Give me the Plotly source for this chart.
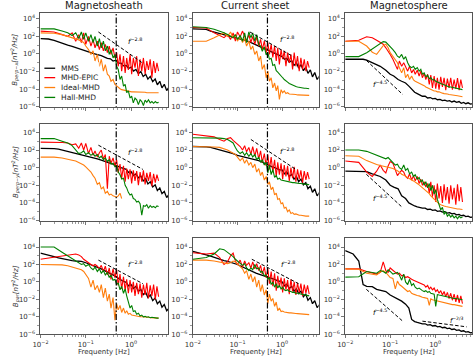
import plotly.graph_objects as go

# ---------------- frequencies (Hz) ----------------
FREQ_MMS = [0.010, 0.015, 0.020, 0.025, 0.030, 0.040, 0.050, 0.060, 0.080, 0.100,
            0.120, 0.150, 0.180, 0.220, 0.260, 0.300, 0.350, 0.400, 0.460, 0.520,
            0.600, 0.680, 0.780, 0.880, 1.00, 1.13, 1.28, 1.45, 1.64, 1.85,
            2.10, 2.35, 2.65, 3.00, 3.40, 3.80, 4.30, 4.80, 5.40, 6.10,
            6.90, 7.80]
FREQ_MODEL = [0.010, 0.020, 0.030, 0.040, 0.050, 0.060, 0.070, 0.080, 0.090, 0.100,
              0.115, 0.130, 0.145, 0.160, 0.180, 0.200, 0.220, 0.245, 0.270, 0.300,
              0.330, 0.360, 0.400, 0.440, 0.480, 0.520, 0.570, 0.620, 0.680, 0.740,
              0.800, 0.870, 0.950, 1.03, 1.12, 1.22, 1.33, 1.45, 1.58, 1.72,
              1.87, 2.04, 2.22, 2.42, 2.64, 2.88, 3.14, 3.42, 3.72, 4.05]

# ---------------- log10 PSD [nT^2/Hz] ----------------
# Magnetosheath, B_perp-x
SHEATH_PX_MMS = [1.75, 1.7, 1.55, 1.35, 1.2, 1.0, 0.85, 0.7, 0.5, 0.35,
                 0.2, 0.05, -0.05, -0.2, -0.35, -0.5, -0.55, -0.8, -0.7, -1.05,
                 -1.05, -1.35, -1.3, -1.65, -1.5, -1.95, -1.75, -2.25, -2.0, -2.55,
                 -2.3, -2.85, -2.55, -3.15, -2.85, -3.5, -3.1, -3.85, -3.45, -4.15,
                 -3.75, -4.35]
SHEATH_PX_EPIC = [2.6, 2.5, 2.2, 2.0, 2.4, 1.45, 2.2, 1.3, 2.4, 1.1,
                  2.0, 0.9, 1.65, 0.7, 1.45, 0.5, 1.3, 0.35, 1.1, 0.15,
                  0.9, -0.05, 0.7, -0.45, 0.15, -1.4, -0.05, -1.95, -0.25, -2.15,
                  -0.45, -1.8, -0.05, -2.3, -0.45, -1.55, -0.25, -2.5, -0.6, -1.95,
                  -0.45, -2.3, -0.8, -1.8, -0.6, -2.7, -0.8, -2.15, -1.0, -1.95]
SHEATH_PX_IDEAL = [2.4, 2.35, 2.2, 2.0, 1.85, 1.75, 1.6, 1.45, 1.3, 0.9,
                   0.5, -0.05, 0.35, -0.8, -0.05, -1.4, -0.6, -1.95, -1.2, -2.3,
                   -2.5, -3.1, -2.9, -3.45, -3.65, -3.85, -3.95, -4.05, -4.1, -4.2,
                   -4.2, -4.25, -4.25, -4.3, -4.3, -4.3, -4.3, -4.35, -4.35, -4.35,
                   -4.35, -4.35, -4.4, -4.4, -4.4, -4.4, -4.4, -4.4, -4.4, -4.4]
SHEATH_PX_HALL = [2.85, 2.85, 2.6, 2.4, 2.1, 2.4, 1.75, 2.5, 1.65, 2.4,
                  1.45, 2.2, 1.3, 2.0, 0.9, 1.75, 0.7, 1.45, 0.35, 0.9,
                  -0.05, 0.5, -0.45, -0.05, -1.4, -1.75, -2.9, -2.5, -3.65, -3.45,
                  -4.4, -4.2, -5.0, -4.8, -5.55, -5.0, -5.2, -5.75, -5.2, -5.4,
                  -5.85, -5.25, -5.5, -5.2, -5.55, -5.4, -5.6, -5.4, -5.55, -5.5]

# Current sheet, B_perp-x
CSHEET_PX_MMS = [2.85, 2.85, 2.8, 2.6, 2.5, 2.35, 2.2, 2.1, 1.95, 1.85,
                 1.7, 1.55, 1.4, 1.2, 1.05, 0.9, 0.75, 0.6, 0.45, 0.35,
                 0.2, 0.05, -0.1, -0.25, -0.3, -0.6, -0.5, -0.95, -0.75, -1.3,
                 -1.0, -1.6, -1.2, -1.9, -1.5, -2.2, -1.8, -2.6, -2.1, -2.9,
                 -2.5, -3.4]
CSHEET_PX_EPIC = [3.0, 2.95, 2.4, 2.1, 1.85, 2.2, 1.65, 2.4, 1.45, 2.5,
                  1.95, 2.6, 1.85, 1.45, 2.2, 1.3, 2.0, 1.1, 1.95, 0.9,
                  1.65, 0.5, 1.45, 0.15, 1.3, -0.05, 1.1, -0.4, 0.9, -0.8,
                  0.7, -1.2, 0.5, -0.6, 0.35, -1.4, 0.15, -1.0, -0.05, -1.75,
                  0.15, -1.4, -0.25, -1.95, -0.45, -1.75, -0.6, -1.95, -0.8, -1.55]
CSHEET_PX_IDEAL = [1.45, 1.45, 1.85, 2.2, 2.4, 2.0, 2.5, 1.85, 2.2, 1.45,
                   2.0, 1.3, 1.75, 0.9, 1.45, 0.5, 0.9, -0.05, 0.35, -0.8,
                   -0.25, -1.75, -1.2, -2.7, -1.95, -3.1, -2.7, -3.85, -3.3, -4.2,
                   -3.6, -5.15, -4.05, -4.4, -4.2, -4.5, -4.4, -4.55, -4.55, -4.6,
                   -4.6, -4.6, -4.65, -4.65, -4.65, -4.7, -4.7, -4.7, -4.7, -4.7]
CSHEET_PX_HALL = [3.1, 3.0, 2.8, 2.6, 2.4, 2.2, 2.0, 1.85, 2.2, 1.65,
                  2.1, 1.45, 2.4, 1.3, 2.5, 1.85, 2.4, 1.45, 2.2, 1.1,
                  0.9, 0.3, 0.8, -0.1, 0.2, -0.6, -0.5, -1.3, -1.2, -1.9,
                  -2.05, -2.3, -2.5, -2.7, -2.9, -3.1, -3.2, -3.35, -3.45, -3.55,
                  -3.6, -3.7, -3.75, -3.8, -3.8, -3.85, -3.9, -3.9, -3.9, -3.95]

# Magnetosphere, B_perp-x
SPHERE_PX_MMS = [-0.6, -0.6, -0.6, -0.6, -0.7, -1.0, -1.2, -1.4, -1.85, -2.3,
                 -2.5, -2.9, -3.1, -3.3, -3.65, -4.05, -4.35, -4.5, -4.7, -4.8,
                 -4.8, -5.0, -4.95, -5.1, -5.05, -5.2, -5.15, -5.3, -5.25, -5.35,
                 -5.3, -5.45, -5.35, -5.5, -5.4, -5.6, -5.5, -5.65, -5.55, -5.7,
                 -5.65, -5.85]
SPHERE_PX_EPIC = [1.45, 1.55, 1.95, 1.85, 1.55, 1.35, 1.1, 0.7, 0.35, -0.05,
                  -0.6, -1.2, -1.75, -0.8, -1.4, -1.0, -1.55, -1.95, -1.4, -2.15,
                  -1.75, -2.3, -1.85, -2.5, -1.95, -2.7, -2.2, -2.9, -2.3, -3.45,
                  -2.4, -3.85, -2.5, -3.95, -2.7, -4.05, -2.6, -3.75, -2.7, -4.1,
                  -2.8, -3.85, -2.7, -4.05, -2.9, -3.95, -2.75, -4.1, -2.9, -3.85]
SPHERE_PX_IDEAL = [1.45, 1.45, 0.9, 0.2, -0.05, 0.5, 0.95, 1.1, 0.7, 0.15,
                   -0.25, -0.6, -1.0, -1.55, -2.15, -1.55, -2.7, -2.3, -2.9, -2.5,
                   -2.95, -3.1, -3.2, -3.3, -3.4, -3.45, -3.6, -3.75, -3.85, -3.95,
                   -4.05, -4.1, -4.2, -4.2, -4.3, -4.3, -4.4, -4.45, -4.5, -4.5,
                   -4.55, -4.6, -4.65, -4.65, -4.7, -4.72, -4.75, -4.78, -4.8, -4.85]
SPHERE_PX_HALL = [-0.3, -0.3, 0.15, 0.6, 0.95, 1.25, 1.4, 1.35, 1.1, 0.8,
                  0.5, 0.15, -0.25, -0.4, -0.05, -0.6, -0.3, -1.0, -1.4, -1.55,
                  -1.4, -1.75, -1.55, -1.95, -1.75, -2.3, -2.15, -2.6, -2.4, -2.8,
                  -2.7, -2.95, -2.9, -3.1, -3.2, -3.3, -3.35, -3.45, -3.5, -3.6,
                  -3.65, -3.75, -3.75, -3.8, -3.85, -3.85, -3.9, -3.95, -4.0, -4.05]

# Magnetosheath, B_perp-y
SHEATH_PY_MMS = [2.2, 2.2, 2.15, 2.1, 2.0, 1.9, 1.75, 1.65, 1.5, 1.35,
                 1.25, 1.1, 1.0, 0.85, 0.75, 0.6, 0.5, 0.4, 0.3, 0.15,
                 0.0, -0.1, -0.2, -0.55, -0.45, -0.9, -0.7, -1.15, -0.95, -1.5,
                 -1.25, -1.85, -1.6, -2.2, -1.95, -2.6, -2.3, -2.95, -2.7, -3.4,
                 -3.0, -3.75]
SHEATH_PY_EPIC = [2.9, 2.9, 2.85, 2.8, 2.6, 2.7, 2.2, 2.8, 2.0, 2.75,
                  1.6, 2.3, 1.4, 1.9, 1.2, 1.7, 2.0, 1.0, 1.5, -2.4,
                  1.3, 0.5, 1.1, 0.2, 0.9, -0.6, 0.4, -1.2, 0.2, -1.6,
                  -0.1, -1.3, -0.2, -1.8, -0.3, -1.5, -0.4, -2.0, -0.5, -1.6,
                  -0.3, -1.9, -0.6, -1.5, -0.5, -2.1, -0.7, -1.7, -0.8, -1.5]
SHEATH_PY_IDEAL = [1.2, 1.2, 1.1, 1.0, 0.85, 0.75, 0.6, 0.5, 0.3, 0.1,
                   -0.2, -0.5, -0.9, -1.2, -1.9, -1.7, -2.4, -2.2, -2.9, -2.7,
                   -3.1, -3.0, -3.2, -3.3, -3.35, -3.2, -2.9, -3.5, None, None,
                   None, None, None, None, None, None, None, None, None, None,
                   None, None, None, None, None, None, None, None, None, None]
SHEATH_PY_HALL = [3.3, 3.3, 3.0, 2.8, 2.5, 2.0, 1.6, 1.7, 1.9, 1.5,
                  1.7, 1.4, 1.6, 1.3, 1.5, 1.1, 1.3, 0.9, 1.1, 0.7,
                  0.9, 0.4, 0.5, 0.1, 0.2, -0.5, -0.8, -1.3, -1.2, -2.0,
                  -2.3, -2.8, -3.1, -3.0, -3.5, -3.6, -3.9, -3.8, -4.1, -5.4,
                  -4.3, -4.4, -4.2, -4.6, -4.3, -4.5, -4.4, -4.55, -4.35, -4.4]

# Current sheet, B_perp-y
CSHEET_PY_MMS = [2.4, 2.4, 2.35, 2.3, 2.2, 2.05, 1.9, 1.75, 1.6, 1.4,
                 1.3, 1.2, 1.1, 1.0, 0.9, 0.8, 0.65, 0.5, 0.4, 0.25,
                 0.1, 0.0, -0.15, -0.25, -0.25, -0.7, -0.5, -1.0, -0.75, -1.3,
                 -1.0, -1.6, -1.3, -1.95, -1.7, -2.4, -2.1, -2.8, -2.4, -3.2,
                 -2.8, -3.5]
CSHEET_PY_EPIC = [3.8, 3.6, 3.5, 3.2, 3.0, 3.3, 3.4, 3.1, 2.9, 2.7,
                  2.4, 2.0, 2.5, 1.8, 2.3, 1.5, 2.4, 1.3, 2.2, 1.0,
                  1.9, 0.6, 1.6, 0.2, 1.5, -0.2, 1.2, -0.5, 0.9, -1.0,
                  0.6, -0.8, 0.5, -1.3, 0.3, -1.0, 0.2, -1.5, 0.0, -1.2,
                  0.1, -1.6, -0.2, -1.3, -0.3, -1.7, -0.4, -1.4, -0.5, -1.3]
CSHEET_PY_IDEAL = [2.4, 2.4, 2.35, 2.3, 2.15, 2.0, 1.8, 1.65, 1.5, 1.2,
                   0.8, 1.1, 0.5, 0.9, 0.3, 0.6, 0.0, 0.4, -0.5, -0.1,
                   -0.9, -0.5, -1.4, -1.0, -1.9, -1.6, -2.5, -2.2, -3.1, -2.9,
                   -3.6, -3.5, -4.1, -4.0, -4.6, -4.5, -5.0, -4.8, -5.2, -5.1,
                   -5.3, -5.25, -5.35, -5.4, -5.4, -5.45, -5.45, -5.5, -5.5, -5.5]
CSHEET_PY_HALL = [3.4, 3.4, 3.4, 3.35, 3.3, 3.2, 3.0, 2.8, 2.3, 1.9,
                  1.6, 1.8, 1.4, 1.7, 1.3, 1.6, 1.2, 1.5, 0.9, 1.2,
                  0.6, 0.9, 0.3, 0.6, -0.6, 0.3, -0.8, -0.2, -1.1, -0.9,
                  -1.3, -1.2, -1.4, -1.45, -1.5, -1.55, -1.6, -1.6, -1.65, -1.7,
                  -1.7, -1.75, -1.75, -1.8, -1.8, -1.85, -1.85, -1.9, -1.9, -1.95]

# Magnetosphere, B_perp-y
SPHERE_PY_MMS = [-0.4, -0.4, -0.4, -0.4, -0.45, -0.7, -0.9, -1.0, -1.4, -2.0,
                 -2.2, -2.4, -3.2, -3.5, -4.0, -4.2, -4.35, -4.45, -4.55, -4.6,
                 -4.6, -4.75, -4.7, -4.85, -4.8, -4.95, -4.9, -5.05, -5.0, -5.15,
                 -5.1, -5.25, -5.2, -5.35, -5.3, -5.45, -5.4, -5.55, -5.5, -5.65,
                 -5.6, -5.75]
SPHERE_PY_EPIC = [0.75, 0.6, -0.5, -1.0, -0.4, 0.3, -0.3, -0.6, 0.2, 0.7,
                  0.5, -0.3, -0.9, -0.6, -0.3, -0.5, -1.0, -1.2, -0.7, -1.4,
                  -0.9, -1.5, -1.0, -1.8, -1.3, -2.0, -1.6, -2.2, -1.8, -2.9,
                  -1.6, -3.3, -2.0, -3.9, -1.8, -3.5, -2.1, -4.0, -1.9, -3.7,
                  -2.2, -4.1, -2.0, -3.6, -2.3, -4.2, -1.9, -3.8, -2.2, -3.9]
SPHERE_PY_IDEAL = [1.35, 1.3, 0.8, 0.5, 0.35, 0.25, 0.2, 0.15, 0.1, 0.0,
                   -0.1, -0.2, -0.35, -0.5, -0.75, -0.85, -1.0, -1.15, -1.25, -1.4,
                   -1.5, -1.6, -1.8, -1.95, -2.1, -2.25, -2.4, -2.55, -2.7, -2.95,
                   -3.2, -3.4, -3.6, -3.75, -3.95, -4.1, -4.2, -4.3, -4.35, -4.4,
                   -4.45, -4.5, -4.55, -4.6, -4.6, -4.65, -4.7, -4.7, -4.75, -4.75]
SPHERE_PY_HALL = [2.0, 2.0, 1.85, 1.6, 1.45, 1.3, 1.15, 1.0, 1.15, 0.9,
                  0.5, 0.3, 0.4, 0.0, -0.2, 0.3, -0.3, -0.1, -0.7, -0.5,
                  -1.0, -0.8, -1.3, -1.1, -1.6, -1.4, -2.0, -1.6, -2.3, -1.8,
                  -2.6, -2.0, -3.0, -2.5, -3.6, -4.2, -4.8, -4.5, -5.3, -5.0,
                  -5.5, -5.3, -5.6, -5.4, -5.7, -5.5, -5.8, -5.5, -5.7, -5.6]

# Magnetosheath, B_par
SHEATH_PAR_MMS = [3.3, 3.1, 2.9, 2.75, 2.65, 2.55, 2.45, 2.4, 2.35, 2.2,
                  2.05, 1.8, 1.65, 1.5, 1.3, 1.1, 0.95, 0.8, 0.6, 0.4,
                  0.2, 0.05, -0.05, -0.45, -0.3, -0.75, -0.5, -1.1, -0.85, -1.45,
                  -1.2, -1.8, -1.5, -2.15, -1.85, -2.5, -2.2, -2.9, -2.6, -3.3,
                  -3.0, -3.9]
SHEATH_PAR_EPIC = [2.6, 2.8, 2.95, 3.05, 3.15, 3.2, 3.1, 2.9, 2.6, 2.4,
                   2.2, 2.0, 1.85, 2.0, 1.8, 1.5, 1.9, 1.2, 1.8, 0.8,
                   1.6, 0.3, 1.5, 0.5, 1.4, -0.4, 0.9, -0.8, 0.6, -1.0,
                   0.3, -1.3, 0.2, -1.2, 0.0, -1.6, -0.1, -1.4, -0.2, -1.8,
                   -0.3, -1.5, -0.1, -1.9, -0.4, -1.6, -0.3, -2.0, -0.5, -1.7]
SHEATH_PAR_IDEAL = [2.0, 2.0, 1.95, 1.85, 1.7, 1.6, 1.45, 1.4, 1.2, 0.9,
                    0.4, -0.6, 0.2, -0.9, -0.4, -1.2, -0.3, -1.8, -0.7, -2.2,
                    -1.4, -3.0, -1.8, -4.4, -2.5, -3.2, -2.7, -3.5, -3.0, -3.6,
                    -3.3, -3.7, -3.6, -3.8, -3.85, -3.9, -3.9, -3.95, -4.0, -4.0,
                    -4.0, -4.05, -4.05, -4.05, -4.1, -4.1, -4.1, -4.1, -4.15, -4.15]
SHEATH_PAR_HALL = [4.0, 4.0, 3.4, 3.0, 2.65, 2.4, 2.2, 2.0, 2.1, 1.8,
                   2.0, 1.6, 1.4, 1.7, 1.2, 1.5, 1.0, 1.3, 0.8, 1.1,
                   0.5, 0.8, 0.2, 0.3, -0.3, -0.1, -0.9, -0.5, -1.3, -0.8,
                   -1.6, -2.4, -3.0, -2.7, -3.4, -3.3, -3.7, -3.6, -3.9, -3.8,
                   -4.0, -3.95, -4.05, -4.0, -4.1, -4.05, -4.1, -4.1, -4.15, -4.15]

# Current sheet, B_par
CSHEET_PAR_MMS = [3.5, 3.3, 3.1, 2.95, 2.8, 2.6, 2.45, 2.35, 2.2, 2.0,
                  1.8, 1.55, 1.35, 1.15, 1.0, 0.9, 0.8, 0.7, 0.6, 0.5,
                  0.4, 0.3, 0.15, 0.05, 0.0, -0.45, -0.25, -0.75, -0.5, -1.05,
                  -0.8, -1.35, -1.05, -1.7, -1.4, -2.1, -1.8, -2.5, -2.15, -2.95,
                  -2.6, -3.3]
CSHEET_PAR_EPIC = [3.35, 3.2, 3.3, 2.8, 2.0, 2.3, 3.0, 3.3, 2.4, 2.0,
                   2.5, 1.7, 2.4, 1.9, 2.2, 1.6, 2.3, 1.5, 2.1, 1.3,
                   1.9, 0.9, 1.7, 0.5, 1.5, -0.2, 1.2, -0.5, 1.0, -1.0,
                   0.7, -0.6, 0.5, -1.2, 0.4, -0.9, 0.2, -1.4, 0.3, -1.1,
                   0.0, -1.5, -0.1, -1.2, -0.2, -1.6, -0.3, -1.3, -0.4, -1.4]
CSHEET_PAR_IDEAL = [2.5, 2.5, 2.4, 2.25, 2.2, 2.1, 2.2, 2.4, 2.3, 2.1,
                    1.8, 1.5, 1.0, 1.3, 0.3, 0.9, 0.0, 0.6, -0.6, 0.2,
                    -1.1, -0.3, -1.5, -0.9, -2.5, -1.4, -2.2, -1.9, -2.8, -2.3,
                    -3.3, -3.0, -3.4, -3.35, -3.45, -3.5, -3.5, -3.55, -3.55, -3.6,
                    -3.6, -3.62, -3.64, -3.66, -3.68, -3.7, -3.7, -3.72, -3.74, -3.75]
CSHEET_PAR_HALL = [2.6, 2.8, 3.2, 3.8, 3.7, 3.4, 3.1, 2.9, 2.6, 2.4,
                   2.2, 1.9, 2.1, 1.6, 1.3, 1.6, 1.4, 2.0, 1.5, 1.6,
                   1.1, 1.2, 0.7, 0.8, 0.3, 0.5, -0.3, 0.0, -0.6, -0.2,
                   -0.7, -0.4, -0.8, -0.6, -0.9, -1.0, -0.9, -1.1, -1.1, -1.2,
                   -1.2, -1.3, -1.3, -1.35, -1.4, -1.45, -1.5, -1.5, -1.55, -1.6]

# Magnetosphere, B_par
SPHERE_PAR_MMS = [3.6, 3.2, 2.4, -0.3, -0.5, -0.55, -0.85, -0.95, -1.1, -1.5,
                  -1.7, -2.0, -2.2, -2.55, -3.0, -4.3, -4.55, -4.65, -4.75, -4.8,
                  -4.8, -4.95, -4.9, -5.05, -5.0, -5.15, -5.1, -5.25, -5.2, -5.35,
                  -5.3, -5.45, -5.4, -5.55, -5.5, -5.65, -5.6, -5.75, -5.7, -5.85,
                  -5.8, -5.95]
SPHERE_PAR_EPIC = [1.5, 1.5, 1.2, 1.0, 0.9, 1.1, 2.3, 1.3, 1.1, 1.6,
                   1.3, 1.1, 0.9, 1.0, 0.7, 0.8, 0.5, 0.6, 0.4, 0.3,
                   0.2, 0.1, 0.0, -0.1, -0.2, -0.3, -0.35, -0.6, -0.4, -0.8,
                   -0.6, -0.9, -0.7, -1.1, -0.9, -1.3, -1.0, -1.5, -1.1, -1.7,
                   -1.2, -1.9, -1.3, -2.1, -1.4, -2.3, -1.5, -2.4, -1.6, -2.5]
SPHERE_PAR_IDEAL = [1.5, 1.45, 1.0, 0.9, 0.8, 1.1, 1.3, 1.1, 0.8, 0.5,
                    0.4, -0.8, 0.1, -0.3, -0.5, -0.7, -0.9, -1.1, -1.0, -1.3,
                    -1.4, -1.5, -1.55, -1.6, -1.7, -1.75, -1.8, -1.85, -1.9, -2.7,
                    -1.95, -2.05, -2.1, -2.15, -2.2, -2.25, -2.3, -2.35, -2.4, -2.45,
                    -2.5, -2.5, -2.55, -2.6, -2.6, -2.65, -2.7, -2.7, -2.75, -2.8]
SPHERE_PAR_HALL = [0.55, 0.6, 1.2, 1.1, 1.0, 1.3, 1.2, 1.0, 1.4, 1.2,
                   0.9, 1.0, 1.1, 0.8, 0.2, 0.9, 0.0, -0.3, 0.3, -0.4,
                   -0.2, -0.6, -0.8, -0.7, -0.9, -1.0, -1.1, -1.0, -1.2, -1.1,
                   -1.3, -1.35, -1.4, -2.8, -1.45, -1.5, -1.55, -1.6, -1.65, -1.7,
                   -1.75, -1.8, -1.8, -1.85, -1.9, -1.9, -1.95, -2.0, -2.0, -2.05]

# ---------------- power-law guides: freq endpoints, log10 PSD endpoints, label position ----------------
GUIDE_F_28 = [[0.19, 1.82], [0.19, 1.78], [0.19, 1.82], [0.20, 2.10], [0.19, 1.82], [0.21, 2.34]]
GUIDE_P_28 = [[2.5, -1.05], [2.5, -0.3], [2.55, -0.2], [3.2, -0.25], [2.5, -0.2], [2.6, -0.2]]
LABEL_28 = [[0.08, 1.46], [0.11, 1.7], [0.08, 1.8], [0.11, 1.9], [0.08, 2.0], [0.14, 2.0]]
GUIDE_F_45 = [[0.0295, 0.19], [0.0295, 0.19], [0.0295, 0.19]]
GUIDE_P_45 = [[-0.73, -4.6], [-0.75, -4.55], [-0.85, -4.5]]
LABEL_45 = [[-1.22, -3.42], [-1.22, -3.47], [-1.22, -3.47]]
GUIDE_F_23 = [0.52, 5.0]
GUIDE_P_23 = [-4.5, -5.15]
LABEL_23 = [0.49, -4.43]
F_BREAK = 0.47

SERIES_NAMES = ["MMS", "MHD-EPIC", "Ideal-MHD", "Hall-MHD"]
SERIES_COLORS = ["#000000", "#ff0000", "#ff7f0e", "#008000"]
COLUMN_TITLES = ["Magnetosheath", "Current sheet", "Magnetosphere"]
ROW_LABELS = ["<i>B<sub>perp−x</sub>[nT<sup>2</sup>/Hz]</i>",
              "<i>B<sub>perp−y</sub>[nT<sup>2</sup>/Hz]</i>",
              "<i>B<sub>par</sub>[nT<sup>2</sup>/Hz]</i>"]
X_TICK_VALS = [0.01, 0.1, 1]
X_TICK_TEXT = ["10<sup>−2</sup>", "10<sup>−1</sup>", "10<sup>0</sup>"]
Y_TICK_VALS = [1e-6, 1e-4, 1e-2, 1, 1e2, 1e4]
Y_TICK_TEXT = ["10<sup>−6</sup>", "10<sup>−4</sup>", "10<sup>−2</sup>",
               "10<sup>0</sup>", "10<sup>2</sup>", "10<sup>4</sup>"]

PANELS = [
    [SHEATH_PX_MMS, SHEATH_PX_EPIC, SHEATH_PX_IDEAL, SHEATH_PX_HALL],
    [CSHEET_PX_MMS, CSHEET_PX_EPIC, CSHEET_PX_IDEAL, CSHEET_PX_HALL],
    [SPHERE_PX_MMS, SPHERE_PX_EPIC, SPHERE_PX_IDEAL, SPHERE_PX_HALL],
    [SHEATH_PY_MMS, SHEATH_PY_EPIC, SHEATH_PY_IDEAL, SHEATH_PY_HALL],
    [CSHEET_PY_MMS, CSHEET_PY_EPIC, CSHEET_PY_IDEAL, CSHEET_PY_HALL],
    [SPHERE_PY_MMS, SPHERE_PY_EPIC, SPHERE_PY_IDEAL, SPHERE_PY_HALL],
    [SHEATH_PAR_MMS, SHEATH_PAR_EPIC, SHEATH_PAR_IDEAL, SHEATH_PAR_HALL],
    [CSHEET_PAR_MMS, CSHEET_PAR_EPIC, CSHEET_PAR_IDEAL, CSHEET_PAR_HALL],
    [SPHERE_PAR_MMS, SPHERE_PAR_EPIC, SPHERE_PAR_IDEAL, SPHERE_PAR_HALL],
]

for p in PANELS:
    assert len(p[0]) == len(FREQ_MMS), len(p[0])
    for s in p[1:]:
        assert len(s) == len(FREQ_MODEL), len(s)

# ---------------- layout geometry (pixels) ----------------
W, H = 474, 360
COL_PX = [(33, 163), (188, 316), (343, 472)]
ROW_PX = [(13, 108), (125, 223), (241, 338)]
Y_TOP = [4.67, 5.0, 5.0]
FONT = "DejaVu Sans"
AX_COLOR = "#555555"


def lin(v):
    return [None if x is None else 10 ** x for x in v]


fig = go.Figure()
annotations = []
layout = {}

x_minor = [m * d for d in (0.01, 0.1, 1) for m in range(2, 10)]
y_minor = [1e-5, 1e-3, 1e-1, 1e1, 1e3]

for k in range(9):
    r, c = divmod(k, 3)
    sfx = "" if k == 0 else str(k + 1)
    xa, ya = "x" + sfx, "y" + sfx
    x0, x1 = COL_PX[c]
    y0, y1 = ROW_PX[r]
    layout["xaxis" + sfx] = dict(
        domain=[x0 / W, x1 / W], anchor=ya, type="log", range=[-2, 0.82],
        showline=True, mirror=True, linecolor=AX_COLOR, linewidth=1,
        ticks="outside", ticklen=3, tickwidth=0.8, tickcolor=AX_COLOR,
        tickmode="array", tickvals=X_TICK_VALS, ticktext=X_TICK_TEXT,
        showticklabels=(r == 2), tickfont=dict(size=7, color="#333"),
        minor=dict(ticks="outside", ticklen=2, tickwidth=0.6, tickcolor=AX_COLOR,
                   tickmode="array", tickvals=x_minor, showgrid=False),
        showgrid=False, zeroline=False,
    )
    layout["yaxis" + sfx] = dict(
        domain=[1 - y1 / H, 1 - y0 / H], anchor=xa, type="log", range=[-6, Y_TOP[r]],
        showline=True, mirror=True, linecolor=AX_COLOR, linewidth=1,
        ticks="outside", ticklen=3, tickwidth=0.8, tickcolor=AX_COLOR,
        tickmode="array", tickvals=Y_TICK_VALS, ticktext=Y_TICK_TEXT,
        tickfont=dict(size=7, color="#333"),
        minor=dict(ticks="outside", ticklen=2, tickwidth=0.6, tickcolor=AX_COLOR,
                   tickmode="array", tickvals=y_minor, showgrid=False),
        showgrid=False, zeroline=False,
    )

    series = PANELS[k]
    freqs = [FREQ_MMS, FREQ_MODEL, FREQ_MODEL, FREQ_MODEL]
    for i in range(4):
        fig.add_trace(go.Scatter(
            x=freqs[i], y=lin(series[i]), mode="lines", xaxis=xa, yaxis=ya,
            line=dict(color=SERIES_COLORS[i], width=1.1 if i else 1.3),
            name=SERIES_NAMES[i], showlegend=False, connectgaps=False,
            hoverinfo="skip"))

    if c < 2:
        g = r * 2 + c
        fig.add_trace(go.Scatter(
            x=[F_BREAK, F_BREAK], y=[1e-7, 1e6], mode="lines", xaxis=xa, yaxis=ya,
            line=dict(color="black", width=1.2, dash="6px,2px,1.5px,2px"),
            showlegend=False, hoverinfo="skip"))
        fig.add_trace(go.Scatter(
            x=GUIDE_F_28[g], y=lin(GUIDE_P_28[g]), mode="lines", xaxis=xa, yaxis=ya,
            line=dict(color="black", width=1, dash="3.5px,2px"),
            showlegend=False, hoverinfo="skip"))
        annotations.append(dict(
            x=LABEL_28[g][0], y=LABEL_28[g][1], xref=xa, yref=ya,
            xanchor="center", yanchor="middle",
            text="<i>f</i><sup>−2.8</sup>", showarrow=False,
            font=dict(size=7, color="black", family=FONT)))
    else:
        fig.add_trace(go.Scatter(
            x=GUIDE_F_45[r], y=lin(GUIDE_P_45[r]), mode="lines", xaxis=xa, yaxis=ya,
            line=dict(color="black", width=1, dash="3.5px,2px"),
            showlegend=False, hoverinfo="skip"))
        annotations.append(dict(
            x=LABEL_45[r][0], y=LABEL_45[r][1], xref=xa, yref=ya,
            xanchor="center", yanchor="middle",
            text="<i>f</i><sup>−4.5</sup>", showarrow=False,
            font=dict(size=7, color="black", family=FONT)))
        if r == 2:
            fig.add_trace(go.Scatter(
                x=GUIDE_F_23, y=lin(GUIDE_P_23), mode="lines", xaxis=xa, yaxis=ya,
                line=dict(color="black", width=1, dash="3.5px,2px"),
                showlegend=False, hoverinfo="skip"))
            annotations.append(dict(
                x=LABEL_23[0], y=LABEL_23[1], xref=xa, yref=ya,
                xanchor="center", yanchor="middle",
                text="<i>f</i><sup>−2/3</sup>", showarrow=False,
                font=dict(size=6.5, color="black", family=FONT)))

# column titles and x labels
for c in range(3):
    cx = (COL_PX[c][0] + COL_PX[c][1]) / 2 / W
    annotations.append(dict(x=cx, y=1 - 6 / H, xref="paper", yref="paper",
                            xanchor="center", yanchor="middle",
                            text=COLUMN_TITLES[c], showarrow=False,
                            font=dict(size=10, color="#222", family=FONT)))
    annotations.append(dict(x=cx, y=1 - 355.5 / H, xref="paper", yref="paper",
                            xanchor="center", yanchor="middle",
                            text="Frequenty [Hz]", showarrow=False,
                            font=dict(size=7, color="#333", family=FONT)))
# row labels
for r in range(3):
    cy = 1 - (ROW_PX[r][0] + ROW_PX[r][1]) / 2 / H
    annotations.append(dict(x=7 / W, y=cy, xref="paper", yref="paper",
                            xanchor="center", yanchor="middle",
                            text=ROW_LABELS[r], textangle=-90, showarrow=False,
                            font=dict(size=7, color="#333", family=FONT)))

# manual legend in first panel
shapes = [dict(type="rect", xref="paper", yref="paper",
               x0=35 / W, x1=93 / W, y0=1 - 104 / H, y1=1 - 63 / H,
               fillcolor="rgba(255,255,255,0.85)", line=dict(width=0), layer="above")]
LEG_Y = [69, 78.5, 88.5, 98.5]
for i in range(4):
    yy = 1 - LEG_Y[i] / H
    shapes.append(dict(type="line", xref="paper", yref="paper",
                       x0=37 / W, x1=48 / W, y0=yy, y1=yy,
                       line=dict(color=SERIES_COLORS[i], width=1.3), layer="above"))
    annotations.append(dict(x=52 / W, y=yy, xref="paper", yref="paper",
                            xanchor="left", yanchor="middle",
                            text=SERIES_NAMES[i], showarrow=False,
                            font=dict(size=7.5, color="#222", family=FONT)))

fig.update_layout(**layout)
fig.update_layout(
    width=W, height=H, margin=dict(l=0, r=0, t=0, b=0),
    paper_bgcolor="white", plot_bgcolor="white",
    font=dict(family=FONT, size=7, color="#333"),
    annotations=annotations, shapes=shapes, showlegend=False,
)
fig.write_html("out.html", config={"displayModeBar": False, "staticPlot": True},
               post_script="document.body.style.margin='0';document.body.style.padding='0';")
